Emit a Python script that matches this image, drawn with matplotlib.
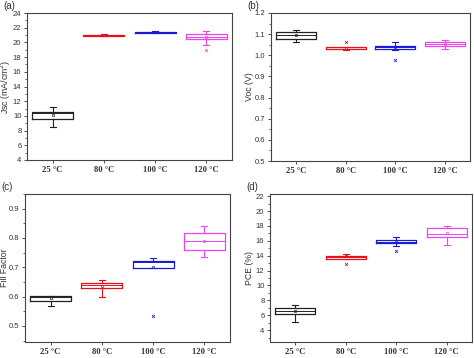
import matplotlib
matplotlib.use('Agg')
import matplotlib.pyplot as plt
from matplotlib.ticker import MultipleLocator, AutoMinorLocator

W, H = 474, 358

categories = ['25 °C', '80 °C', '100 °C', '120 °C']
colors = ['#222222', '#e8101a', '#1a1ad0', '#ee44ee']

# Jsc (mA/cm2)
jsc_q1 = [9.64, 20.9, 21.3, 20.45]
jsc_med = [10.45, 21.0, 21.4, 20.8]
jsc_q3 = [10.55, 21.05, 21.45, 21.2]
jsc_lo = [8.45, 20.85, 21.25, 19.6]
jsc_hi = [11.25, 21.15, 21.5, 21.55]
jsc_mean = [10.1, 20.95, 21.4, 20.8]
jsc_fliers = [[], [], [], [19.0]]

# Voc (V)
voc_q1 = [1.077, 1.029, 1.031, 1.044]
voc_med = [1.097, 1.032, 1.037, 1.053]
voc_q3 = [1.112, 1.037, 1.045, 1.063]
voc_lo = [1.064, 1.024, 1.023, 1.031]
voc_hi = [1.118, 1.040, 1.063, 1.072]
voc_mean = [1.097, 1.033, 1.037, 1.053]
voc_fliers = [[], [1.061], [0.979], []]

# Fill factor
ff_q1 = [0.585, 0.628, 0.699, 0.758]
ff_med = [0.600, 0.639, 0.718, 0.789]
ff_q3 = [0.602, 0.647, 0.720, 0.817]
ff_lo = [0.569, 0.599, 0.698, 0.734]
ff_hi = [0.603, 0.658, 0.733, 0.840]
ff_mean = [0.595, 0.637, 0.702, 0.789]
ff_fliers = [[], [], [0.534], []]

# PCE (%)
pce_q1 = [6.22, 13.61, 15.65, 16.51]
pce_med = [6.6, 13.8, 15.83, 16.9]
pce_q3 = [6.99, 14.02, 16.1, 17.69]
pce_lo = [5.08, 13.5, 15.29, 15.47]
pce_hi = [7.44, 14.24, 16.5, 18.0]
pce_mean = [6.6, 13.9, 15.9, 17.0]
pce_fliers = [[], [12.88], [14.6], []]


def make_stats(q1, med, q3, lo, hi, mean, fliers):
    out = []
    for i in range(len(q1)):
        out.append({'q1': q1[i], 'med': med[i], 'q3': q3[i], 'whislo': lo[i],
                    'whishi': hi[i], 'mean': mean[i], 'fliers': fliers[i]})
    return out


def draw_panel(rect, stats, ylim, major, ylabel, label_x, tag):
    l, t, r, b = rect
    ax = fig.add_axes([l / W, 1 - b / H, (r - l) / W, (b - t) / H])
    for i, st in enumerate(stats):
        c = colors[i]
        ax.bxp([st], positions=[i + 1], widths=0.8, showmeans=True,
               patch_artist=False,
               boxprops=dict(color=c, linewidth=0.9),
               medianprops=dict(color=c, linewidth=0.7),
               whiskerprops=dict(color=c, linewidth=0.8),
               capprops=dict(color=c, linewidth=0.8),
               meanprops=dict(marker='s', markersize=2.0, markerfacecolor='none',
                              markeredgecolor=c, markeredgewidth=0.5),
               flierprops=dict(marker='x', markersize=2, markeredgecolor=c,
                               markeredgewidth=0.6),
               capwidths=0.12)
    ax.set_xlim(0.5, 4.5)
    ax.set_ylim(*ylim)
    ax.yaxis.set_major_locator(MultipleLocator(major))
    ax.yaxis.set_minor_locator(AutoMinorLocator(2))
    ax.set_xticks([1, 2, 3, 4])
    ax.set_xticklabels(categories, family='Liberation Serif', fontweight='bold',
                       fontsize=6.2)
    for lab in ax.get_yticklabels():
        lab.set_fontsize(5.5)
    ax.tick_params(axis='both', which='major', direction='out', length=2.5,
                   width=0.6, pad=1.5, colors='#333333', labelcolor='#333333')
    ax.tick_params(axis='y', which='minor', direction='out', length=1.5, width=0.5,
                   colors='#333333')
    ax.set_ylabel(ylabel, fontsize=6.3, color='#333333')
    ax.yaxis.set_label_coords((label_x - l) / (r - l), 0.5)
    for s in ax.spines.values():
        s.set_linewidth(0.8)
        s.set_color('#444444')
    fig.text((l - 24) / W, 1 - (t - 7) / H, tag, fontsize=7, color='#333333',
             ha='left', va='center')
    return ax


fig = plt.figure(figsize=(W / 100, H / 100), dpi=100)
plt.rcParams['font.family'] = ['Liberation Sans', 'DejaVu Sans']

draw_panel((27, 13, 232, 160),
           make_stats(jsc_q1, jsc_med, jsc_q3, jsc_lo, jsc_hi, jsc_mean, jsc_fliers),
           (4, 24), 2, 'Jsc (mA/cm$^2$)', 13, '(a)')
draw_panel((271, 13, 470, 161),
           make_stats(voc_q1, voc_med, voc_q3, voc_lo, voc_hi, voc_mean, voc_fliers),
           (0.5, 1.2), 0.1, 'Voc (V)', 254, '(b)')
draw_panel((25, 194, 230, 342),
           make_stats(ff_q1, ff_med, ff_q3, ff_lo, ff_hi, ff_mean, ff_fliers),
           (0.445, 0.95), 0.1, 'Fill Factor', 9, '(c)')
draw_panel((270, 194, 472, 342),
           make_stats(pce_q1, pce_med, pce_q3, pce_lo, pce_hi, pce_mean, pce_fliers),
           (2.4, 22.3), 2, 'PCE (%)', 254, '(d)')

fig.savefig('out.png', dpi=100)
